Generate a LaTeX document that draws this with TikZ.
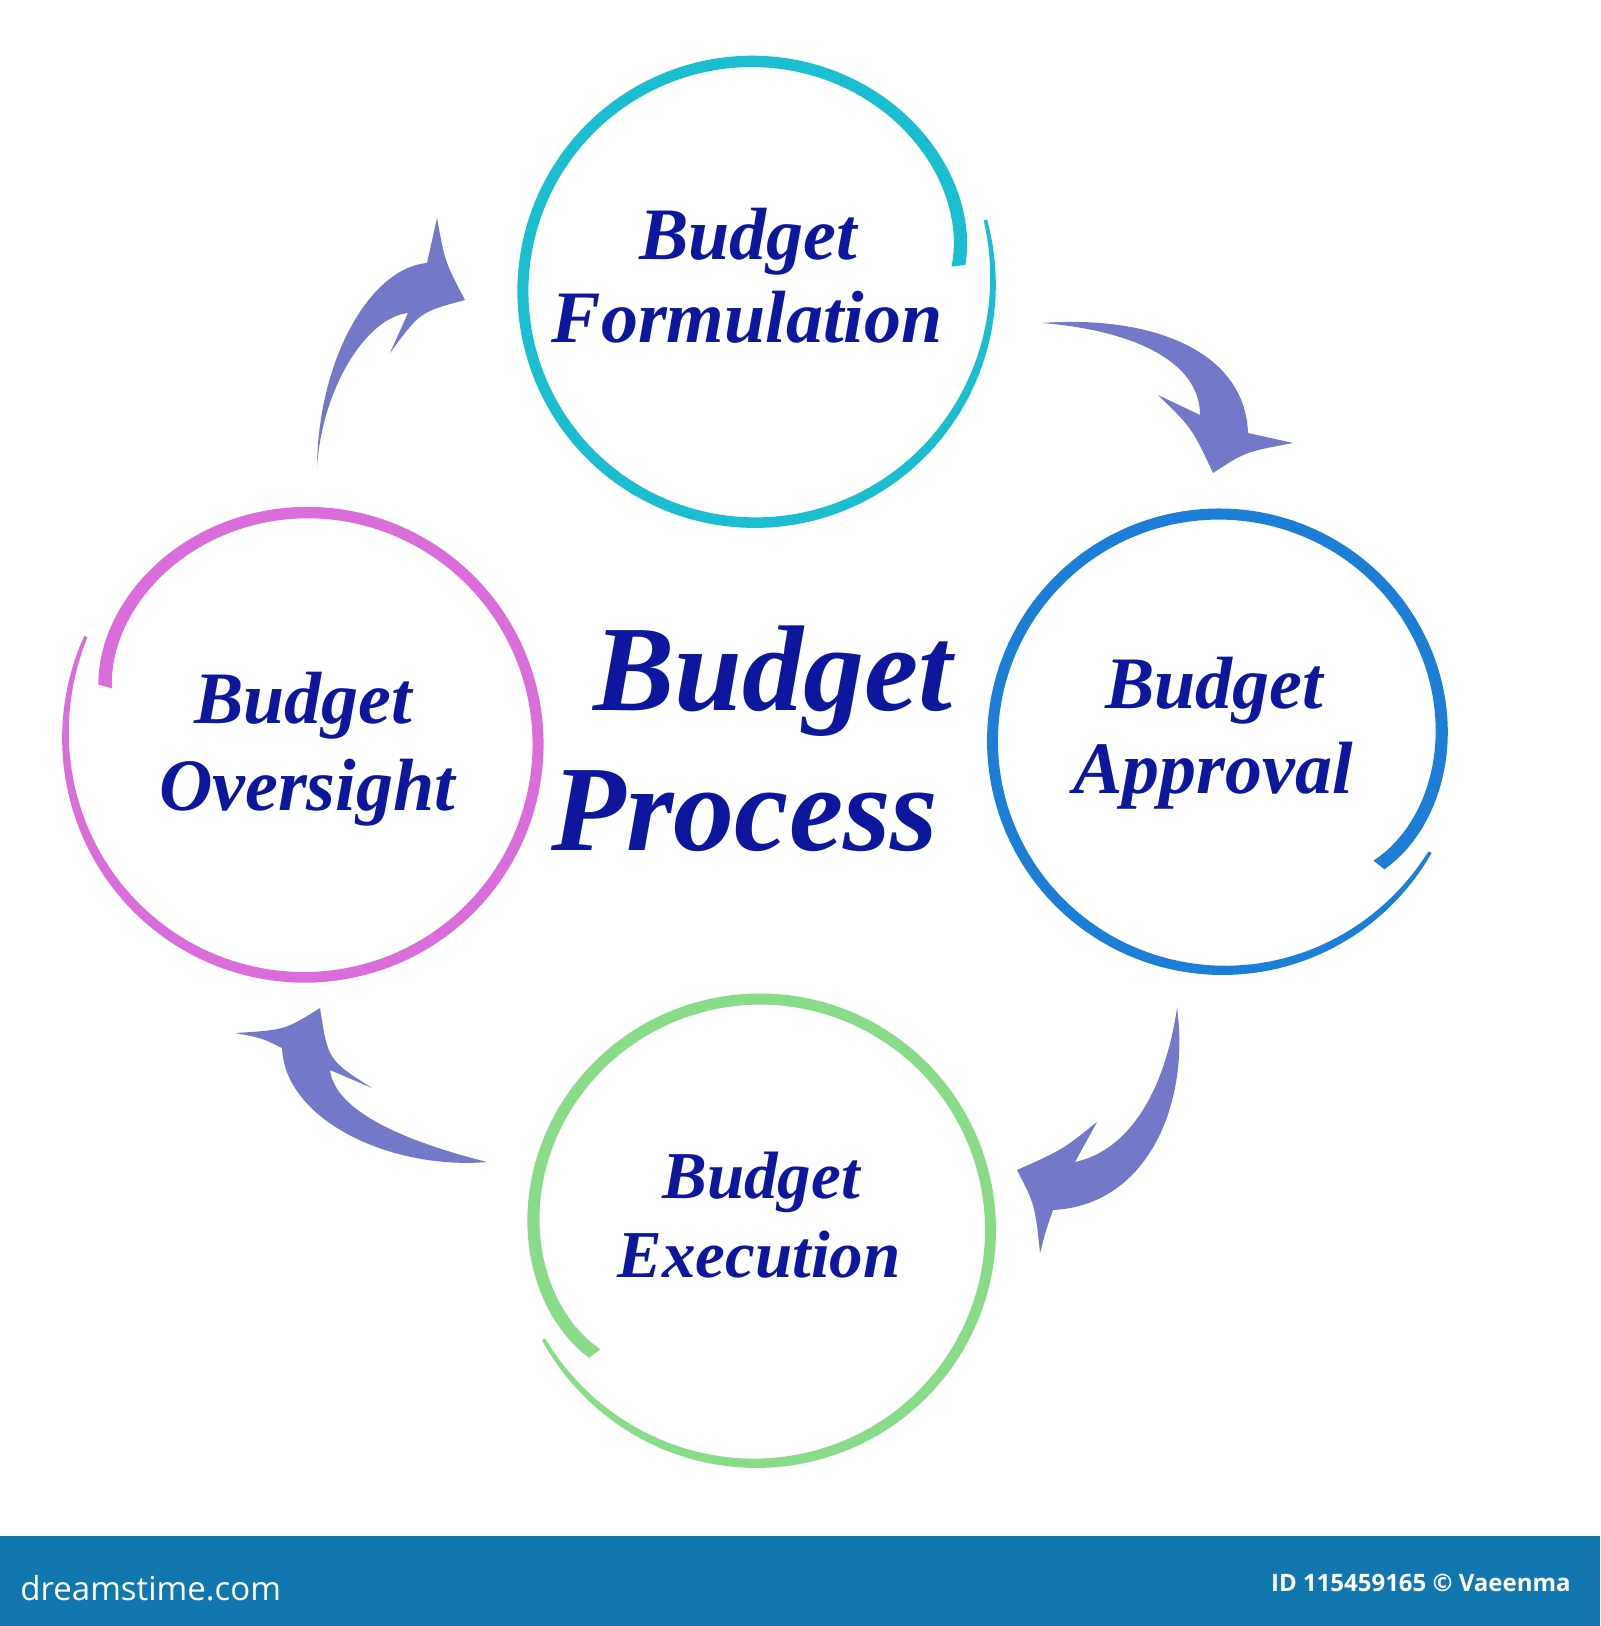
\documentclass[tikz,border=0pt]{standalone}
\usepackage{fontspec}
\setmainfont{Liberation Serif}
\newfontfamily\barfont{Open Sans}
\definecolor{txt}{RGB}{14,22,158}
\definecolor{arr}{RGB}{116,120,200}
\definecolor{cform}{RGB}{27,190,208}
\definecolor{cappr}{RGB}{28,126,214}
\definecolor{cexec}{RGB}{136,220,136}
\definecolor{cover}{RGB}{218,108,220}
\definecolor{barc}{RGB}{17,119,174}
\tikzset{
  declare function={rr(\u,\q)=\q-23*exp(-min(\u,200)/20)+13*(\u/370)^6;
                    ww(\u)=11+3*exp(-min(\u,200)/40)-7.5*(\u/370)^8;},
  lbl/.style={text=txt,inner sep=0pt,anchor=base,font=\fontsize{37}{40}\selectfont\bfseries\itshape},
  lblsmall/.style={lbl,font=\fontsize{33.5}{36}\selectfont\bfseries\itshape},
  title/.style={text=txt,inner sep=0pt,anchor=base,font=\fontsize{61}{66}\selectfont\bfseries\itshape},
  arrowshape/.style={fill=arr},
}
\newcommand\brushring[6]{%
  \fill[#6] plot[domain=0:370,samples=180,variable=\s]
     ({#1+(rr(\s,#3)+ww(\s)/2)*cos(#4+(#5)*\s)},{#2-(rr(\s,#3)+ww(\s)/2)*sin(#4+(#5)*\s)})
   -- plot[domain=370:0,samples=180,variable=\s]
     ({#1+(rr(\s,#3)-ww(\s)/2)*cos(#4+(#5)*\s)},{#2-(rr(\s,#3)-ww(\s)/2)*sin(#4+(#5)*\s)})
   -- cycle;}
\begin{document}
\begin{tikzpicture}[x=0.5pt,y=-0.5pt]
\useasboundingbox (0,0) rectangle (1600,1626);
\fill[white] (0,0) rectangle (1600,1626);

% rings
\brushring{753}{291}{230}{7}{1}{cform}
\brushring{1219}{740}{226}{-38}{1}{cappr}
\brushring{306}{744}{232}{164}{-1}{cover}
\brushring{760}{1229}{230}{217}{-1}{cexec}

\coordinate (cF) at (753,291);
\coordinate (cA) at (1219,740);
\coordinate (cO) at (306,744);
\coordinate (cE) at (760,1229);

% arrows
% Oversight -> Formulation
\fill[arrowshape] (317,467) .. controls (318,360) and (370,268) .. (427,263)
  -- (437,218) .. controls (445,262) .. (465,300)
  .. controls (420,312) .. (390,353) -- (408,313)
  .. controls (365,318) and (322,390) .. (317,467) -- cycle;
% Formulation -> Approval
\fill[arrowshape] (1042,323) .. controls (1150,315) and (1245,350) .. (1248,433)
  -- (1293,443) .. controls (1245,452) .. (1213,473)
  .. controls (1192,428) .. (1158,395) -- (1200,415)
  .. controls (1200,360) and (1130,330) .. (1042,323) -- cycle;
% Approval -> Execution
\fill[arrowshape] (1177,1008) .. controls (1190,1100) and (1150,1205) .. (1053,1210)
  .. controls (1046,1230) .. (1040,1253)
  .. controls (1035,1205) .. (1017,1170)
  .. controls (1062,1150) .. (1097,1122) -- (1075,1162)
  .. controls (1130,1150) and (1165,1090) .. (1177,1008) -- cycle;
% Execution -> Oversight
\fill[arrowshape] (487,1162) .. controls (390,1170) and (285,1120) .. (282,1048)
  .. controls (262,1038) .. (235,1033)
  .. controls (285,1030) .. (320,1008)
  .. controls (328,1060) .. (372,1088) -- (330,1070)
  .. controls (335,1110) and (400,1140) .. (487,1162) -- cycle;

% labels
\node[lbl] (f1) at (748,260) {Budget};
\node[lbl] (f2) at (747,343) {Formulation};
\node[lbl] (a1) at (1214,708) {Budget};
\node[lbl] (a2) at (1213,793) {Approval};
\node[lbl] (o1) at (303,723) {Budget};
\node[lbl] (o2) at (307,810) {Oversight};
\node[lblsmall] (e1) at (761,1198) {Budget};
\node[lblsmall] (e2) at (759,1277) {Execution};
\node[title] (t1) at (773,710) {Budget};
\node[title] (t2) at (745,850) {Process};

% bottom bar
\fill[barc] (0,1536) rectangle (1600,1626);
\node[anchor=base west,inner sep=0pt,text=white,font=\barfont\fontsize{16.5}{18}\selectfont] (logo) at (20,1600) {dreamstime.com};
\node[anchor=base east,inner sep=0pt,text=white,font=\barfont\bfseries\fontsize{12}{14}\selectfont] (id) at (1571,1591) {ID 115459165 © Vaeenma};
\end{tikzpicture}
\end{document}
